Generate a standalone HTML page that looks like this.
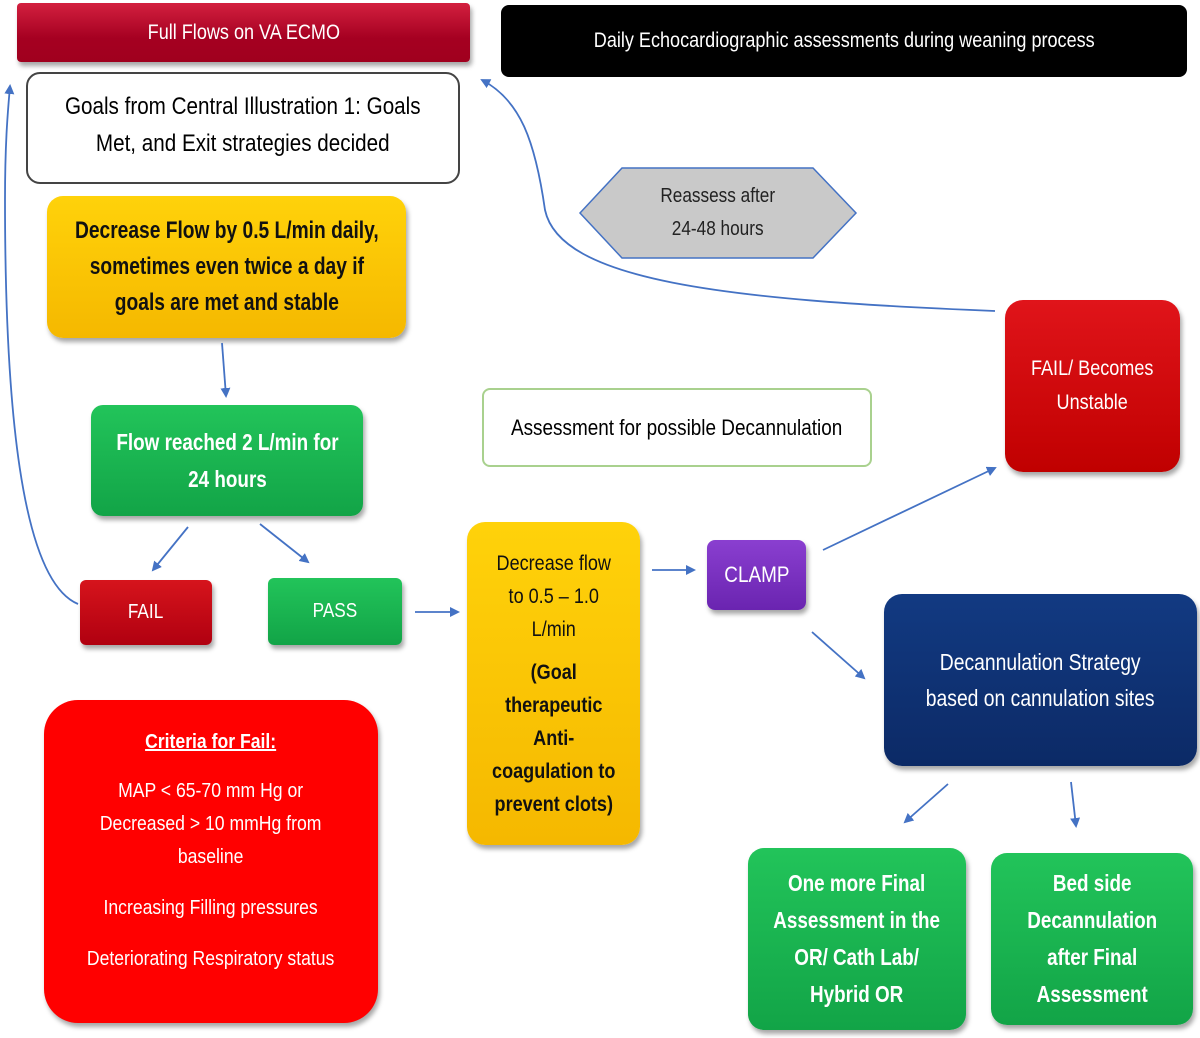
<!DOCTYPE html>
<html><head><meta charset="utf-8"><style>
body{margin:0;width:1200px;height:1038px;background:#fff;position:relative;overflow:hidden;font-family:"Liberation Sans",sans-serif;}
.b{position:absolute;box-sizing:border-box;display:flex;flex-direction:column;align-items:center;justify-content:center;text-align:center;white-space:nowrap;}
.b>span{display:inline-block;transform:scaleX(0.86);}
.sh{box-shadow:2px 4px 5px rgba(0,0,0,0.35);}
svg{position:absolute;left:0;top:0;}
</style></head><body>
<div class="b sh" style="left:17px;top:3px;width:453px;height:59px;background:linear-gradient(#d3203f,#a50021 60%,#a0001e);border-radius:4px;color:#fff;font-size:21px;"><span>Full Flows on VA ECMO</span></div>
<div class="b" style="left:501px;top:5px;width:686px;height:72px;background:#000;border-radius:8px;color:#fff;font-size:21px;"><span>Daily Echocardiographic assessments during weaning process</span></div>
<div class="b" style="left:26px;top:72px;width:434px;height:112px;background:#fff;border:2px solid #444;border-radius:14px;color:#000;font-size:24px;line-height:37px;justify-content:flex-start;padding-top:14px;"><span>Goals from Central Illustration 1: Goals<br>Met, and Exit strategies decided</span></div>
<div class="b sh" style="left:47px;top:196px;width:359px;height:142px;background:linear-gradient(#ffd20a,#f5b800);border-radius:16px;color:#111;font-size:24px;line-height:36px;font-weight:bold;"><span style="transform:scaleX(0.8)">Decrease Flow by 0.5 L/min daily,<br>sometimes even twice a day if<br>goals are met and stable</span></div>
<svg width="1200" height="1038">
<defs><marker id="a" markerWidth="10" markerHeight="10" refX="8" refY="5" orient="auto" markerUnits="userSpaceOnUse"><path d="M0,0 L10,5 L0,10 z" fill="#4472c4"/></marker></defs>
<polygon points="580,213 622,168 813,168 856,213 813,258 622,258" fill="#c9c9c9" stroke="#4472c4" stroke-width="1.5"/>
<g stroke="#4472c4" stroke-width="1.8" fill="none" marker-end="url(#a)">
<path d="M78,604 C20,580 5,400 5,200 C5,140 8,110 10,86"/>
<path d="M995,311 C720,300 560,280 545,210 C535,140 520,100 482,80"/>
<path d="M222,343 L226,396"/>
<path d="M188,527 L153,570"/>
<path d="M260,524 L308,562"/>
<path d="M415,612 L458,612"/>
<path d="M652,570 L694,570"/>
<path d="M823,550 L995,468"/>
<path d="M812,632 L864,678"/>
<path d="M948,784 L905,822"/>
<path d="M1071,782 L1076,826"/>
</g>
</svg>
<div class="b" style="left:580px;top:168px;width:276px;height:90px;color:#222;font-size:20px;line-height:33px;"><span>Reassess after<br>24-48 hours</span></div>
<div class="b sh" style="left:91px;top:405px;width:272px;height:111px;background:linear-gradient(#22c45a,#12a447);border-radius:12px;color:#fff;font-size:23px;line-height:37px;font-weight:bold;"><span style="transform:scaleX(0.82)">Flow reached 2 L/min for<br>24 hours</span></div>
<div class="b" style="left:482px;top:388px;width:390px;height:79px;border:2px solid #a9d18e;border-radius:8px;color:#000;font-size:22px;"><span>Assessment for possible Decannulation</span></div>
<div class="b sh" style="left:1005px;top:300px;width:175px;height:172px;background:linear-gradient(#e0141a,#c00000);border-radius:18px;color:#fff;font-size:21px;line-height:34px;"><span>FAIL/ Becomes<br>Unstable</span></div>
<div class="b sh" style="left:80px;top:580px;width:132px;height:65px;background:linear-gradient(#d6141c,#b00010);border-radius:6px;color:#fff;font-size:20px;"><span>FAIL</span></div>
<div class="b sh" style="left:268px;top:578px;width:134px;height:67px;background:linear-gradient(#22c45a,#12a447);border-radius:6px;color:#fff;font-size:20px;"><span>PASS</span></div>
<div class="b sh" style="left:467px;top:522px;width:173px;height:323px;background:linear-gradient(#ffd20a,#f5b800);border-radius:18px;color:#111;font-size:21px;line-height:33px;"><span>Decrease flow<br>to 0.5 – 1.0<br>L/min<br><b style="display:block;margin-top:10px">(Goal<br>therapeutic<br>Anti-<br>coagulation to<br>prevent clots)</b></span></div>
<div class="b sh" style="left:707px;top:540px;width:99px;height:70px;background:linear-gradient(#8a3fd0,#6a24b0);border-radius:8px;color:#fff;font-size:22px;"><span>CLAMP</span></div>
<div class="b sh" style="left:884px;top:594px;width:313px;height:172px;background:linear-gradient(#123a82,#0c2a66);border-radius:18px;color:#fff;font-size:23px;line-height:36px;"><span style="transform:scaleX(0.84)">Decannulation Strategy<br>based on cannulation sites</span></div>
<div class="b sh" style="left:44px;top:700px;width:334px;height:323px;background:#ff0000;border-radius:34px;color:#fff;font-size:20px;line-height:33px;justify-content:flex-start;padding-top:26px;"><span style="transform:scaleX(0.88)"><b style="text-decoration:underline;">Criteria for Fail:</b><div style="margin-top:16px">MAP &lt; 65-70 mm Hg or<br>Decreased &gt; 10 mmHg from<br>baseline</div><div style="margin-top:18px">Increasing Filling pressures</div><div style="margin-top:18px">Deteriorating Respiratory status</div></span></div>
<div class="b sh" style="left:748px;top:848px;width:218px;height:182px;background:linear-gradient(#22c45a,#12a447);border-radius:16px;color:#fff;font-size:23px;line-height:37px;font-weight:bold;"><span style="transform:scaleX(0.82)">One more Final<br>Assessment in the<br>OR/ Cath Lab/<br>Hybrid OR</span></div>
<div class="b sh" style="left:991px;top:853px;width:202px;height:172px;background:linear-gradient(#22c45a,#12a447);border-radius:16px;color:#fff;font-size:23px;line-height:37px;font-weight:bold;"><span style="transform:scaleX(0.82)">Bed side<br>Decannulation<br>after Final<br>Assessment</span></div>
</body></html>
